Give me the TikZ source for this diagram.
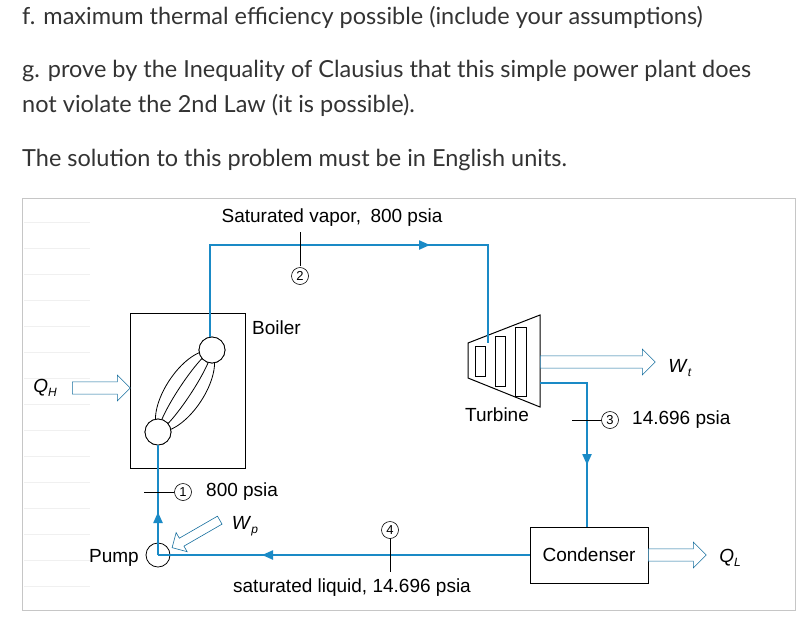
\documentclass[tikz,border=0pt]{standalone}
\usepackage{fontspec}
\setmainfont{Lato}
\newfontfamily\arialf{Liberation Sans}
\usetikzlibrary{shapes.arrows,arrows.meta,calc}
\definecolor{pipe}{HTML}{1A8AC6}
\definecolor{txt}{HTML}{333333}
\begin{document}
\begin{tikzpicture}[x=1pt,y=-1pt,
  pipeline/.style={draw=pipe,line width=2.2pt},
  flowtip/.style={-{Triangle[length=11pt,width=9pt]}},
  lbl/.style={font=\arialf\fontsize{19}{22}\selectfont,text=black,inner sep=0pt},
  qtxt/.style={font=\fontsize{23.5}{28}\selectfont,text=txt,anchor=west,inner sep=0pt},
  hollow/.style={single arrow,draw=pipe!80!black,fill=white,line width=0.6pt,minimum height=#1,single arrow head extend=6pt,inner sep=5pt,anchor=tail},
  num/.style={circle,draw,line width=0.6pt,inner sep=0pt,minimum size=17pt,font=\arialf\fontsize{13}{14}\selectfont,fill=white},
  hdr/.style={circle,draw,line width=0.8pt,fill=white,minimum size=26pt,inner sep=0pt},
  box/.style={draw,line width=1pt}]
\useasboundingbox (0,0) rectangle (810,627);
% question text
\node[qtxt] (f) at (22,17) {f. maximum thermal efficiency possible (include your assumptions)};
\node[qtxt] (g1) at (22,71) {g. prove by the Inequality of Clausius that this simple power plant does};
\node[qtxt] (g2) at (22,105) {not violate the 2nd Law (it is possible).};
\node[qtxt] (s) at (22,160) {The solution to this problem must be in English units.};
% frame
\draw[gray!45,line width=1pt] (22,198) rectangle (795,610);
\foreach \yy in {222,248,274,300,326,352,378,404,430,456,482,508,534,560,586}
  \draw[gray!12] (24,\yy) -- (90,\yy);
% boiler
\node[box,minimum width=115pt,minimum height=155pt,inner sep=0pt] (boiler) at (187.5,390.5) {};
\node[lbl,anchor=west] (blbl) at (252,328) {Boiler};
\node[hdr] (htop) at (212,350) {};
\node[hdr] (hbot) at (158,432) {};
\foreach \k in {-1.5,-0.5,0.5,1.5}
  \draw[line width=0.8pt] (hbot.center) .. controls ($(hbot)!0.15!(htop)+(\k*14,\k*9.3)$) and ($(hbot)!0.85!(htop)+(\k*14,\k*9.3)$) .. (htop.center);
\node[hdr] at (212,350) {};
\node[hdr] at (158,432) {};
% turbine
\draw[line width=1pt] (468,343) -- (540,315) -- (540,407) -- (468,378) -- cycle;
\node[inner sep=0pt] (turb) at (504,361) {};
\draw[line width=0.8pt] (475,346) rectangle (485,376);
\draw[line width=0.8pt] (495,336) rectangle (505,386);
\draw[line width=0.8pt] (515,327) rectangle (526,396);
\node[lbl] (tlbl) at (497,415) {Turbine};
% condenser
\node[box,minimum width=118pt,minimum height=56pt,inner sep=0pt] (cond) at (589,555) {};
\node[lbl] at (cond) {Condenser};
% pump
\node[circle,draw,line width=0.8pt,minimum size=24pt,inner sep=0pt] (pump) at (158,555) {};
\node[lbl,anchor=east] (plbl) at (139,558) {Pump};
% pipes
\coordinate (b2) at (210,245);
\coordinate (t2) at (488,245);
\draw[pipeline] (htop.north -| 210,0) -- (b2) -- (t2) -- (488,343);
\draw[pipeline,flowtip] (b2) -- (430,245);
\draw[pipeline] (540,383) -- (587,383) -- (587,527);
\draw[pipeline,flowtip] (587,383) -- (587,465);
\draw[pipeline] (cond.west) -- (pump.center);
\draw[pipeline,flowtip] (cond.west) -- (262,555);
\draw[pipeline] (pump.center) -- (hbot.south);
\draw[pipeline,flowtip] (pump.center) -- (158,512);
% state labels
\draw[line width=0.8pt] (300,232) -- (300,266);
\node[num] (n2) at (300,276) {2};
\node[lbl] (sv) at (332,218) {Saturated vapor,\enspace 800 psia};
\draw[line width=0.8pt] (144,492) -- (174,492);
\node[num] (n1) at (183,492) {1};
\node[lbl,anchor=west] at (206,492) {800 psia};
\draw[line width=0.8pt] (572,420) -- (602,420);
\node[num] (n3) at (610,420) {3};
\node[lbl,anchor=west] at (632,420) {14.696 psia};
\draw[line width=0.8pt] (390,538) -- (390,572);
\node[num] (n4) at (390,530) {4};
\node[lbl] at (352,588) {saturated liquid, 14.696 psia};
% energy arrows
\node[hollow=58pt,minimum width=26pt] (qh) at (72,388) {};
\node[lbl] at (45,388) {\textit{Q}\raisebox{-4pt}{\fontsize{12}{12}\selectfont\textit{H}}};
\node[hollow=115pt,minimum width=26pt] (wt) at (540,362) {};
\node[lbl] at (680,368) {\textit{W}\raisebox{-4pt}{\fontsize{12}{12}\selectfont\textit{t}}};
\node[hollow=58pt,minimum width=26pt] (ql) at (648,555) {};
\node[lbl] at (730,558) {\textit{Q}\raisebox{-4pt}{\fontsize{12}{12}\selectfont\textit{L}}};
\node[hollow=55pt,minimum width=22pt,inner sep=4pt,rotate=-150] (wp) at (220,520) {};
\node[lbl] at (245,526) {\textit{W}\raisebox{-4pt}{\fontsize{12}{12}\selectfont\textit{p}}};
\end{tikzpicture}
\end{document}
